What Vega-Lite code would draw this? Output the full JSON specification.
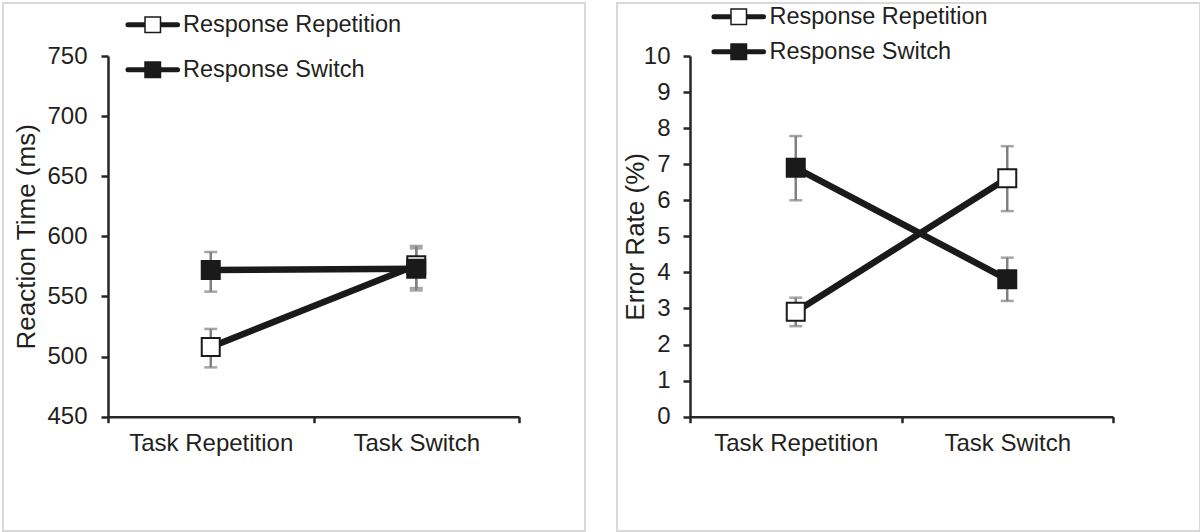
{
  "$schema": "https://vega.github.io/schema/vega-lite/v6.json",
  "padding": {"left": 2, "top": 2, "right": 0, "bottom": 0},
  "spacing": 30,
  "resolve": {"scale": {"stroke": "independent", "fill": "independent", "y": "independent", "x": "independent"}, "legend": {"stroke": "independent", "fill": "independent"}},
  "config": {
    "font": "Liberation Sans",
    "view": {"stroke": "#d9d9d9", "strokeWidth": 2},
    "axis": {"grid": false, "domainColor": "#262626", "tickColor": "#262626", "domainWidth": 2.5, "tickWidth": 2.5, "labelColor": "#231f20", "titleColor": "#231f20", "labelFont": "Liberation Sans", "titleFont": "Liberation Sans", "titleFontWeight": "normal"},
    "legend": {"labelFont": "Liberation Sans", "labelColor": "#231f20", "labelLimit": 0}
  },
  "hconcat": [
    {
      "width": 582,
      "height": 528,
      "data": {"values": [
        {"task": "Task Repetition", "resp": "Response Repetition", "v": 508, "lo": 491, "hi": 523},
        {"task": "Task Switch", "resp": "Response Repetition", "v": 576, "lo": 557, "hi": 592},
        {"task": "Task Repetition", "resp": "Response Switch", "v": 572, "lo": 554, "hi": 587},
        {"task": "Task Switch", "resp": "Response Switch", "v": 573, "lo": 555, "hi": 590}
      ]},
      "encoding": {
        "x": {"field": "task", "type": "nominal",
          "scale": {"type": "band", "domain": ["Task Repetition", "Task Switch"], "range": [105, 516], "paddingInner": 0, "paddingOuter": 0},
          "axis": {"title": null, "orient": "bottom", "offset": -114.3, "tickBand": "extent", "labelAngle": 0, "labelFontSize": 24, "labelPadding": 9, "tickSize": 6}}
      },
      "layer": [
        {"mark": {"type": "rule", "color": "#808080", "strokeWidth": 2.5},
         "encoding": {"y": {"field": "lo", "type": "quantitative", "scale": {"domain": [450, 750], "range": [413.7, 53], "nice": false, "zero": false},
             "axis": {"orient": "left", "offset": -105, "values": [450, 500, 550, 600, 650, 700, 750], "labelFontSize": 24, "tickSize": 7, "labelPadding": 14, "title": "Reaction Time (ms)", "titleFontSize": 26, "titlePadding": 7}},
           "y2": {"field": "hi"}}},
        {"mark": {"type": "tick", "color": "#808080", "size": 13, "thickness": 2.5},
         "encoding": {"y": {"field": "lo", "type": "quantitative", "scale": {"domain": [450, 750], "range": [413.7, 53], "nice": false, "zero": false},
             "axis": {"orient": "left", "offset": -105, "values": [450, 500, 550, 600, 650, 700, 750], "labelFontSize": 24, "tickSize": 7, "labelPadding": 14, "title": "Reaction Time (ms)", "titleFontSize": 26, "titlePadding": 7}}}},
        {"mark": {"type": "tick", "color": "#808080", "size": 13, "thickness": 2.5},
         "encoding": {"y": {"field": "hi", "type": "quantitative", "scale": {"domain": [450, 750], "range": [413.7, 53], "nice": false, "zero": false},
             "axis": {"orient": "left", "offset": -105, "values": [450, 500, 550, 600, 650, 700, 750], "labelFontSize": 24, "tickSize": 7, "labelPadding": 14, "title": "Reaction Time (ms)", "titleFontSize": 26, "titlePadding": 7}}}},
        {"mark": {"type": "line", "strokeWidth": 6.5},
         "encoding": {
           "y": {"field": "v", "type": "quantitative", "scale": {"domain": [450, 750], "range": [413.7, 53], "nice": false, "zero": false},
             "axis": {"orient": "left", "offset": -105, "values": [450, 500, 550, 600, 650, 700, 750], "labelFontSize": 24, "tickSize": 7, "labelPadding": 14, "title": "Reaction Time (ms)", "titleFontSize": 26, "titlePadding": 7}},
           "stroke": {"field": "resp", "type": "nominal",
             "scale": {"domain": ["Response Repetition", "Response Switch"], "range": ["#1a1a1a", "#1a1a1a"]},
             "legend": {"orient": "none", "legendX": 138, "legendY": 10, "title": null, "padding": 0, "symbolType": "M-3.2,0H3.2", "symbolSize": 240, "symbolStrokeWidth": 5, "labelExpr": "''", "labelFontSize": 23.5, "rowPadding": 20,
               "encode": {"symbols": {"update": {"strokeCap": {"value": "round"}, "fill": {"value": "transparent"}}}}}}
         }},
        {"mark": {"type": "point", "shape": "square", "size": 324, "filled": true, "opacity": 1, "stroke": "#1a1a1a", "strokeWidth": 2},
         "encoding": {
           "y": {"field": "v", "type": "quantitative", "scale": {"domain": [450, 750], "range": [413.7, 53], "nice": false, "zero": false},
             "axis": {"orient": "left", "offset": -105, "values": [450, 500, 550, 600, 650, 700, 750], "labelFontSize": 24, "tickSize": 7, "labelPadding": 14, "title": "Reaction Time (ms)", "titleFontSize": 26, "titlePadding": 7}},
           "fill": {"field": "resp", "type": "nominal", "scale": {"range": ["#ffffff", "#1a1a1a"]},
             "legend": {"orient": "none", "legendX": 138, "legendY": 10, "title": null, "padding": 0, "symbolType": "square", "symbolSize": 240, "labelFontSize": 23.5, "labelOffset": 18.5, "rowPadding": 20,
               "encode": {"symbols": {"update": {"stroke": {"value": "#1a1a1a"}, "strokeWidth": {"value": 2}, "opacity": {"value": 1}}}}}}
         }}
      ]
    },
    {
      "width": 583,
      "height": 528,
      "data": {"values": [
        {"task": "Task Repetition", "resp": "Response Repetition", "v": 2.91, "lo": 2.51, "hi": 3.3},
        {"task": "Task Switch", "resp": "Response Repetition", "v": 6.61, "lo": 5.7, "hi": 7.5},
        {"task": "Task Repetition", "resp": "Response Switch", "v": 6.9, "lo": 6.0, "hi": 7.78},
        {"task": "Task Switch", "resp": "Response Switch", "v": 3.81, "lo": 3.21, "hi": 4.41}
      ]},
      "encoding": {
        "x": {"field": "task", "type": "nominal",
          "scale": {"type": "band", "domain": ["Task Repetition", "Task Switch"], "range": [73, 496], "paddingInner": 0, "paddingOuter": 0},
          "axis": {"title": null, "orient": "bottom", "offset": -114.3, "tickBand": "extent", "labelAngle": 0, "labelFontSize": 24, "labelPadding": 9, "tickSize": 6}}
      },
      "layer": [
        {"mark": {"type": "rule", "color": "#808080", "strokeWidth": 2.5},
         "encoding": {"y": {"field": "lo", "type": "quantitative", "scale": {"domain": [0, 10], "range": [413.7, 53], "nice": false},
             "axis": {"orient": "left", "offset": -73, "values": [0, 1, 2, 3, 4, 5, 6, 7, 8, 9, 10], "labelFontSize": 24, "tickSize": 7, "labelPadding": 13, "title": "Error Rate (%)", "titleFontSize": 26, "titlePadding": -5}},
           "y2": {"field": "hi"}}},
        {"mark": {"type": "tick", "color": "#808080", "size": 13, "thickness": 2.5},
         "encoding": {"y": {"field": "lo", "type": "quantitative", "scale": {"domain": [0, 10], "range": [413.7, 53], "nice": false},
             "axis": {"orient": "left", "offset": -73, "values": [0, 1, 2, 3, 4, 5, 6, 7, 8, 9, 10], "labelFontSize": 24, "tickSize": 7, "labelPadding": 13, "title": "Error Rate (%)", "titleFontSize": 26, "titlePadding": -5}}}},
        {"mark": {"type": "tick", "color": "#808080", "size": 13, "thickness": 2.5},
         "encoding": {"y": {"field": "hi", "type": "quantitative", "scale": {"domain": [0, 10], "range": [413.7, 53], "nice": false},
             "axis": {"orient": "left", "offset": -73, "values": [0, 1, 2, 3, 4, 5, 6, 7, 8, 9, 10], "labelFontSize": 24, "tickSize": 7, "labelPadding": 13, "title": "Error Rate (%)", "titleFontSize": 26, "titlePadding": -5}}}},
        {"mark": {"type": "line", "strokeWidth": 6.5},
         "encoding": {
           "y": {"field": "v", "type": "quantitative", "scale": {"domain": [0, 10], "range": [413.7, 53], "nice": false},
             "axis": {"orient": "left", "offset": -73, "values": [0, 1, 2, 3, 4, 5, 6, 7, 8, 9, 10], "labelFontSize": 24, "tickSize": 7, "labelPadding": 13, "title": "Error Rate (%)", "titleFontSize": 26, "titlePadding": -5}},
           "stroke": {"field": "resp", "type": "nominal",
             "scale": {"domain": ["Response Repetition", "Response Switch"], "range": ["#1a1a1a", "#1a1a1a"]},
             "legend": {"orient": "none", "legendX": 110, "legendY": 2, "title": null, "padding": 0, "symbolType": "M-3.2,0H3.2", "symbolSize": 240, "symbolStrokeWidth": 5, "labelExpr": "''", "labelFontSize": 23.5, "rowPadding": 10,
               "encode": {"symbols": {"update": {"strokeCap": {"value": "round"}, "fill": {"value": "transparent"}}}}}}
         }},
        {"mark": {"type": "point", "shape": "square", "size": 324, "filled": true, "opacity": 1, "stroke": "#1a1a1a", "strokeWidth": 2},
         "encoding": {
           "y": {"field": "v", "type": "quantitative", "scale": {"domain": [0, 10], "range": [413.7, 53], "nice": false},
             "axis": {"orient": "left", "offset": -73, "values": [0, 1, 2, 3, 4, 5, 6, 7, 8, 9, 10], "labelFontSize": 24, "tickSize": 7, "labelPadding": 13, "title": "Error Rate (%)", "titleFontSize": 26, "titlePadding": -5}},
           "fill": {"field": "resp", "type": "nominal", "scale": {"range": ["#ffffff", "#1a1a1a"]},
             "legend": {"orient": "none", "legendX": 110, "legendY": 2, "title": null, "padding": 0, "symbolType": "square", "symbolSize": 240, "labelFontSize": 23.5, "labelOffset": 19, "rowPadding": 10,
               "encode": {"symbols": {"update": {"stroke": {"value": "#1a1a1a"}, "strokeWidth": {"value": 2}, "opacity": {"value": 1}}}}}}
         }}
      ]
    }
  ]
}
